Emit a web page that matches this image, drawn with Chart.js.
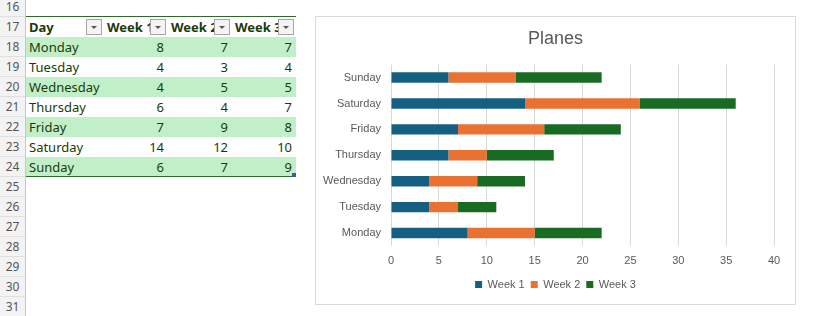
<!DOCTYPE html>
<html><head><meta charset="utf-8">
<script src="https://cdn.jsdelivr.net/npm/chart.js@4/dist/chart.umd.min.js"></script>
<style>
html,body{margin:0;padding:0;background:#fff;width:817px;height:316px;overflow:hidden;font-family:"Noto Sans",sans-serif;}
.rh{position:absolute;left:0;width:25px;height:19px;background:#f3f3f3;border-bottom:1px solid #e0e0e0;color:#555;font-size:12px;text-align:center;line-height:19px;}
.vline{position:absolute;left:25px;top:0;width:1px;height:316px;background:#c8c8c8;}
.cell{position:absolute;height:20px;line-height:20px;font-size:13px;color:#1a3a0a;white-space:nowrap;overflow:hidden;box-sizing:border-box;padding:0 3px;}
.num{text-align:right;padding-right:4px;}
.hdr{font-weight:bold;}
.btn{position:absolute;width:14px;height:14px;border:1px solid #a6a6a6;background:#f4f4f4;}
.btn:after{content:"";position:absolute;left:4px;top:6px;border-left:3px solid transparent;border-right:3px solid transparent;border-top:3px solid #555;}
.gline{position:absolute;height:1px;background:#2e6b2a;}
#chartBox{position:absolute;left:315px;top:16px;width:481px;height:289px;border:1px solid #d9d9d9;box-sizing:border-box;background:#fff;}
#chartBox canvas{position:absolute;left:0;top:0;}
</style>
</head><body>
<div id="sheet"></div>
<div id="chartBox"><canvas id="c" width="479" height="287"></canvas></div>
<script>
const days = ["Monday","Tuesday","Wednesday","Thursday","Friday","Saturday","Sunday"];
const week1 = [8,4,4,6,7,14,6];
const week2 = [7,3,5,4,9,12,7];
const week3 = [7,4,5,7,8,10,9];
const seriesNames = ["Week 1","Week 2","Week 3"];
const headerLabels = ["Day","Week 1","Week 2","Week 3"];
const rowNumbers = [16,17,18,19,20,21,22,23,24,25,26,27,28,29,30,31];

// ---- spreadsheet part ----
const sheet = document.getElementById('sheet');
const rowTop = r => -3 + (r - 16) * 20;
rowNumbers.forEach(r => {
  const d = document.createElement('div');
  d.className = 'rh';
  d.style.top = rowTop(r) + 'px';
  d.textContent = r;
  sheet.appendChild(d);
});
const vl = document.createElement('div'); vl.className = 'vline'; sheet.appendChild(vl);
const colEdges = [26,104,168,232,296];
function addCell(text, r, c, cls, bg) {
  const d = document.createElement('div');
  d.className = 'cell ' + (cls || '');
  d.style.left = colEdges[c] + 'px';
  d.style.width = (colEdges[c+1] - colEdges[c]) + 'px';
  d.style.top = rowTop(r) + 'px';
  if (bg) d.style.background = bg;
  d.textContent = text;
  sheet.appendChild(d);
  return d;
}
headerLabels.forEach((h, c) => {
  addCell(h, 17, c, 'hdr', '#fff');
  const b = document.createElement('div');
  b.className = 'btn';
  b.style.left = (colEdges[c+1] - 18) + 'px';
  b.style.top = (rowTop(17) + 2) + 'px';
  sheet.appendChild(b);
});
const series = [week1, week2, week3];
days.forEach((day, i) => {
  const r = 18 + i;
  const bg = i % 2 === 0 ? '#c1f0c8' : '#fff';
  addCell(day, r, 0, '', bg);
  series.forEach((s, k) => addCell(s[i], r, k + 1, 'num', bg));
});
[rowTop(17) - 1, rowTop(25) - 1].forEach(y => {
  const g = document.createElement('div');
  g.className = 'gline';
  g.style.left = '26px'; g.style.width = '270px'; g.style.top = y + 'px';
  sheet.appendChild(g);
});
const corner = document.createElement('div');
corner.style.cssText = 'position:absolute;left:292px;top:' + (rowTop(25) - 4) + 'px;width:4px;height:4px;background:#3c5aa8;';
sheet.appendChild(corner);

// ---- chart ----
const colors = ["#156082","#E97132","#196B24"];
const xTicks = [0,5,10,15,20,25,30,35,40];
const font = "'Liberation Sans', 'Noto Sans', sans-serif";
const grey = '#595959';

const fixBoxes = {
  id: 'fixBoxes',
  afterLayout(chart) {
    [chart.legend, chart.titleBlock].forEach(b => {
      if (!b) return;
      b.left = 0; b.right = chart.width; b.width = chart.width;
    });
  }
};

new Chart(document.getElementById('c'), {
  type: 'bar',
  data: {
    labels: days,
    datasets: seriesNames.map((n, k) => ({
      label: n,
      data: series[k],
      backgroundColor: colors[k],
      borderWidth: 0,
      categoryPercentage: 0.8,
      barPercentage: 0.5
    }))
  },
  plugins: [fixBoxes],
  options: {
    responsive: false,
    animation: false,
    indexAxis: 'y',
    layout: { padding: { left: 0, right: 21, top: 0, bottom: 4 } },
    plugins: {
      tooltip: { enabled: false },
      title: {
        display: true, text: 'Planes', color: grey,
        font: { family: font, size: 18, weight: 'normal' },
        padding: { top: 11, bottom: 15 }
      },
      legend: {
        position: 'bottom',
        labels: {
          boxWidth: 7, boxHeight: 7, padding: 6, color: grey,
          font: { family: font, size: 11 }
        }
      }
    },
    scales: {
      x: {
        stacked: true, min: 0, max: 40,
        afterBuildTicks(s) { s.ticks = xTicks.map(v => ({ value: v })); },
        afterFit(s) { s.height = 27; },
        grid: { color: '#d9d9d9', drawTicks: false },
        border: { display: false },
        ticks: { color: grey, padding: 8, font: { family: font, size: 11 } }
      },
      y: {
        stacked: true, reverse: true,
        afterFit(s) { s.width = 75; },
        grid: { display: false, drawTicks: false },
        border: { display: false },
        ticks: { color: grey, padding: 10, font: { family: font, size: 11 } }
      }
    }
  }
});
</script>
</body></html>
